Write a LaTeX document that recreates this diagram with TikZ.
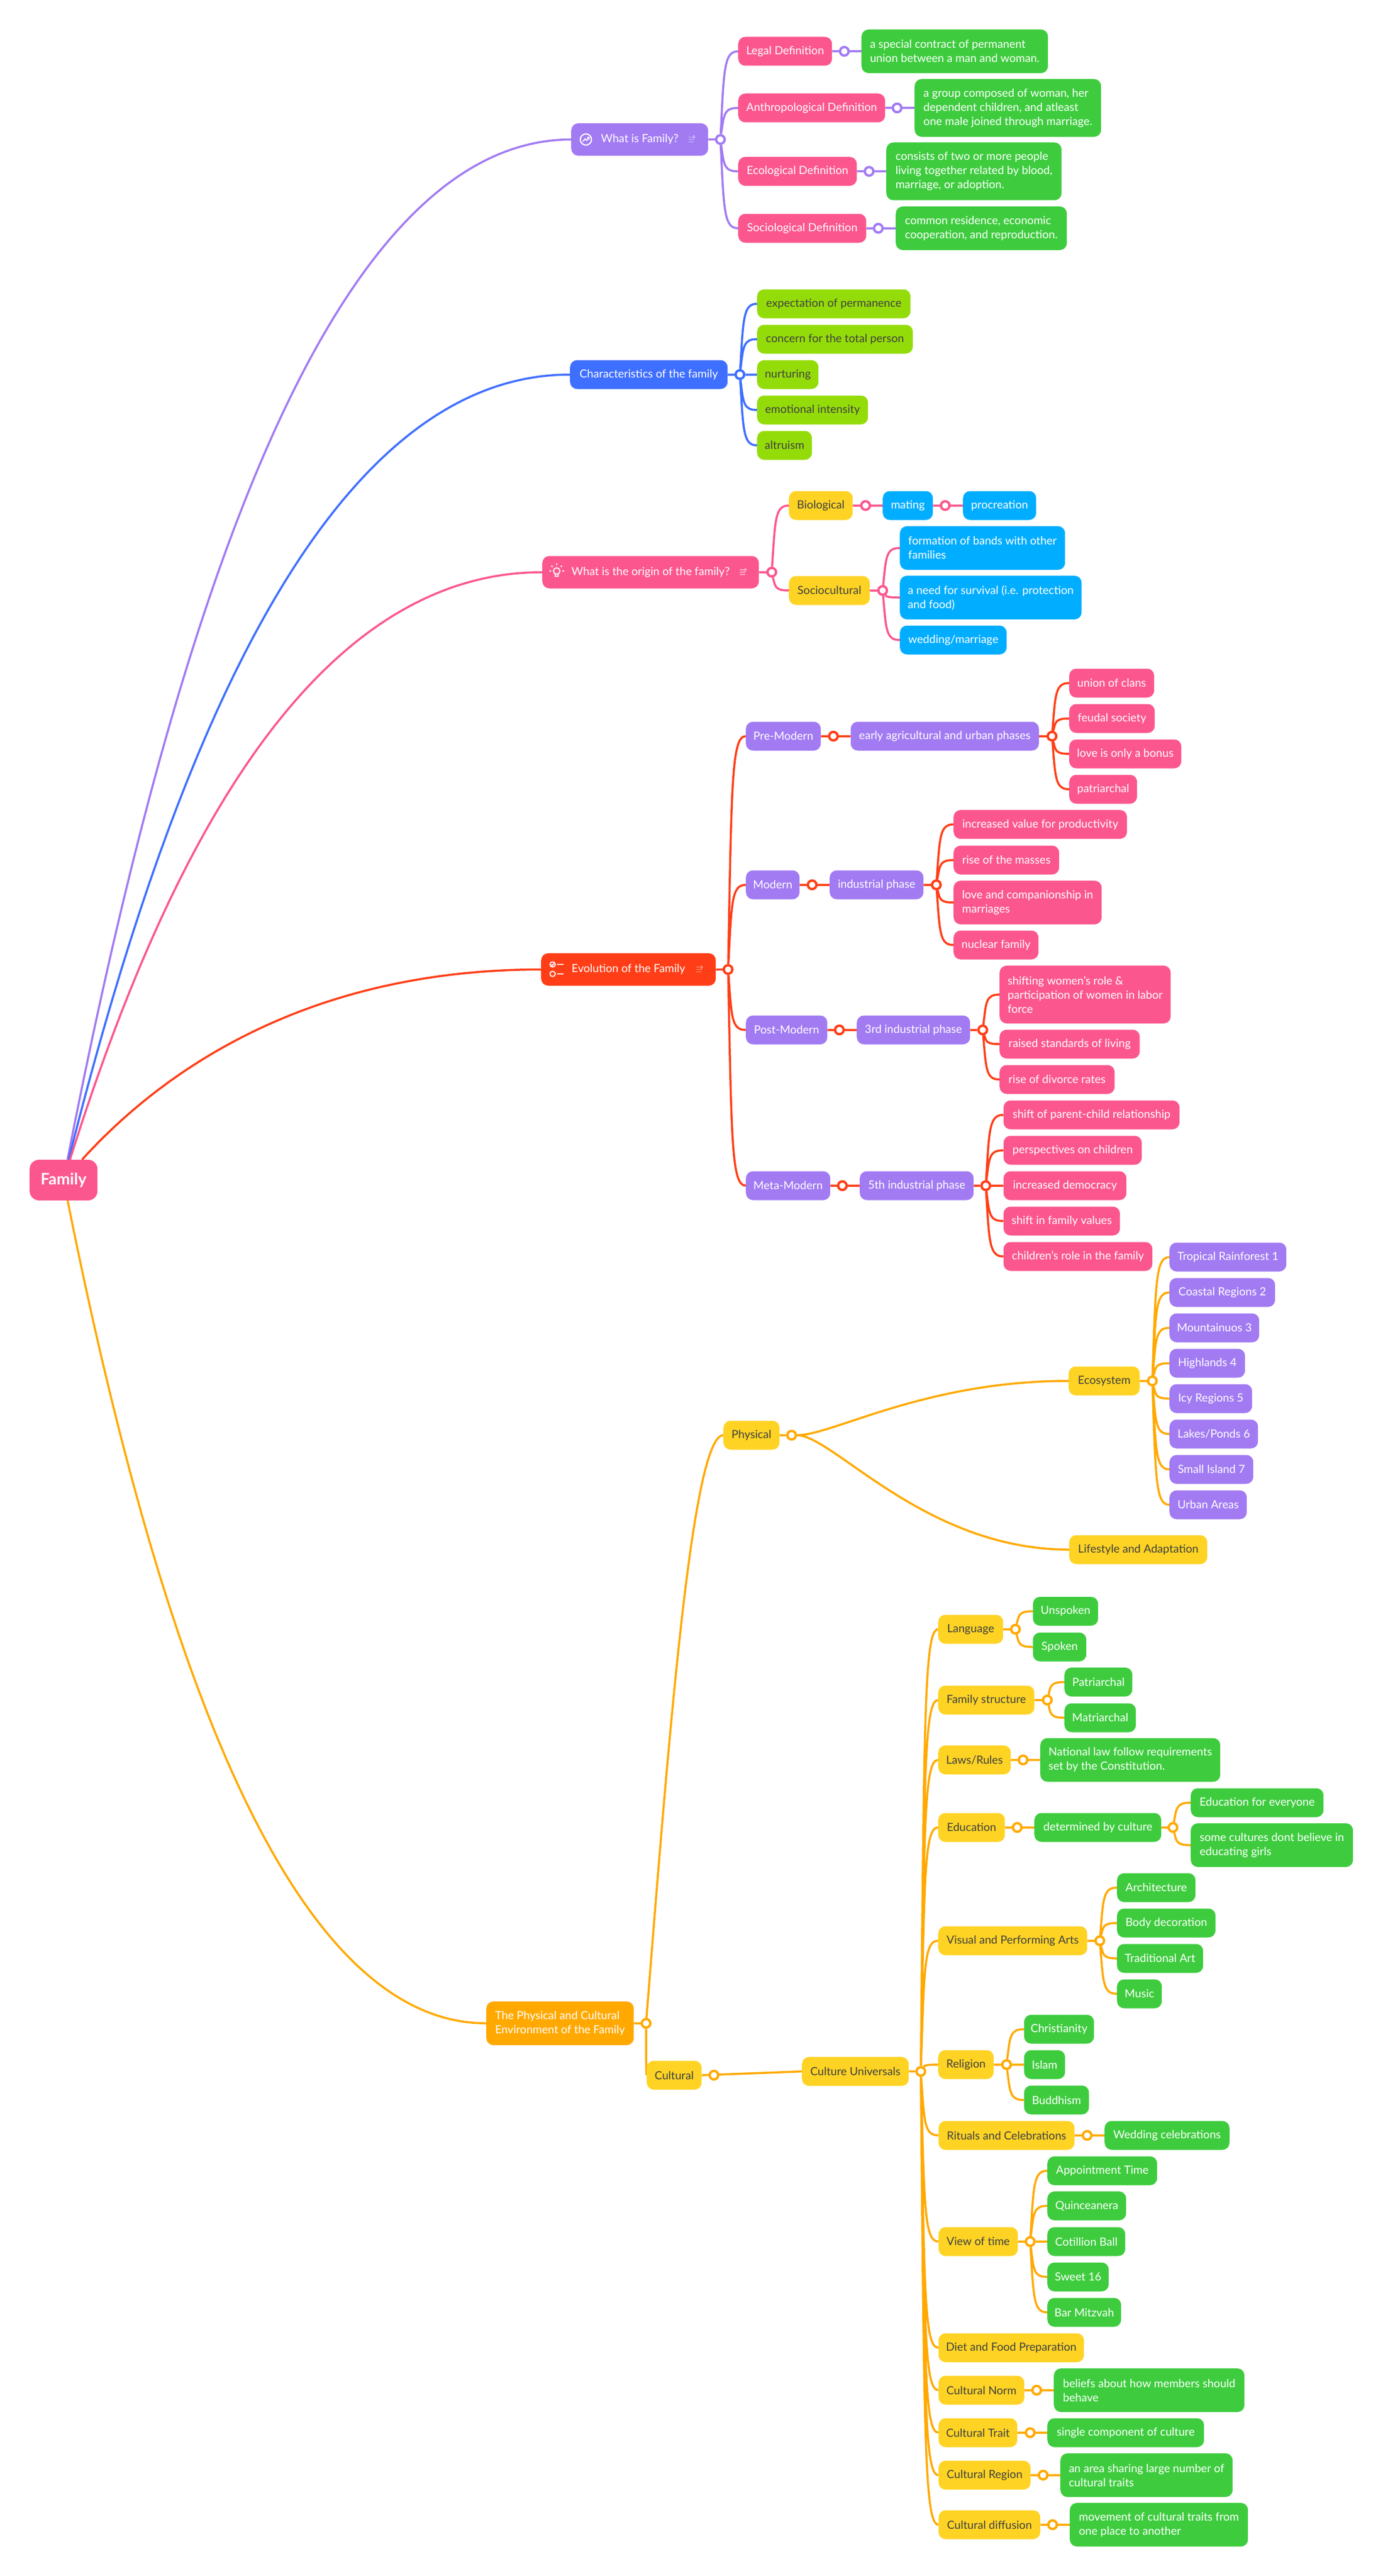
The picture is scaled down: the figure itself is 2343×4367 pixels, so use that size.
\documentclass[tikz,border=0pt]{standalone}
\usepackage{fontspec}
\setmainfont{Lato}
\usetikzlibrary{calc,backgrounds}
\definecolor{mmpurple}{HTML}{A27BF3}
\definecolor{mmpink}{HTML}{FB578E}
\definecolor{mmgreen}{HTML}{3ECC3E}
\definecolor{mmblue}{HTML}{3F6FFF}
\definecolor{mmlime}{HTML}{94DC09}
\definecolor{mmyellow}{HTML}{FFD324}
\definecolor{mmcyan}{HTML}{00ADFF}
\definecolor{mmred}{HTML}{FF3E17}
\definecolor{mmorange}{HTML}{FFA900}
\definecolor{mmdark}{HTML}{404040}
\tikzset{
  box/.style={anchor=west,rounded corners=12pt,inner xsep=2pt,inner ysep=0pt,minimum height=49pt,align=left,font=\fontsize{19.1}{24}\selectfont,text=white},
  greenbox/.style={box,fill=mmgreen},
  pinkbox/.style={box,fill=mmpink},
  purplebox/.style={box,fill=mmpurple},
  cyanbox/.style={box,fill=mmcyan},
  limebox/.style={box,fill=mmlime,text=mmdark},
  yellowbox/.style={box,fill=mmyellow,text=mmdark},
  topbox/.style={box,minimum height=55pt,fill=#1},
  hub/.style={circle,draw=#1,fill=white,line width=4pt,minimum size=14.5pt,inner sep=0pt},
  bend/.style n args={3}{to path={let \p1=(\tikztostart),\p2=(\tikztotarget) in
    .. controls (\x1+#1*\x2-#1*\x1,\y1+#3*\y2-#3*\y1) and (\x1+#2*\x2-#2*\x1,\y2) .. (\tikztotarget)}},
  rootline/.style={bend={0.2}{0.5}{0.5}},
  fanline/.style={bend={0.2}{0.2}{0.8}},
  longline/.style={bend={0.15}{0.48}{0}},
  noteicon/.pic={
    \draw[white,opacity=.5,line width=1.5pt] (-6,-4) -- (1,-4) (-6,0) -- (3,0) (-6,4) -- (3,4) (3,-7) -- (3,-1) (0,-4) -- (6,-4);
  }
}
\begin{document}
\begin{tikzpicture}[x=1pt,y=-1pt]
  \useasboundingbox (0,0) rectangle (2343,4367);

  \node[box,fill=mmpink,minimum width=115pt,minimum height=69pt,rounded corners=16pt,font=\fontsize{27}{30}\selectfont\bfseries] (family) at (50,2000.5) {Family};

  % what is family
  \node[topbox=mmpurple,minimum width=232pt] (whatis) at (968,236.5) {What is Family?};
  \node[hub=mmpurple] (hwhatis) at (1221,236.5) {};
  \node[pinkbox,minimum width=159pt] (legal) at (1251,87) {Legal Definition};
  \node[hub=mmpurple] (hlegal) at (1431,87) {};
  \node[greenbox,minimum width=316pt,minimum height=74pt] (contract) at (1460,87) {a special contract of permanent\\union between a man and woman.};
  \node[pinkbox,minimum width=249pt] (anthro) at (1251,183) {Anthropological Definition};
  \node[hub=mmpurple] (hanthro) at (1520.5,183) {};
  \node[greenbox,minimum width=316pt,minimum height=98pt] (group) at (1550,183) {a group composed of woman, her\\dependent children, and atleast\\one male joined through marriage.};
  \node[pinkbox,minimum width=201pt] (eco) at (1251,290.5) {Ecological Definition};
  \node[hub=mmpurple] (heco) at (1473,290.5) {};
  \node[greenbox,minimum width=297pt,minimum height=98pt] (consists) at (1502,290.5) {consists of two or more people\\living together related by blood,\\marriage, or adoption.};
  \node[pinkbox,minimum width=217pt] (socio) at (1251,387) {Sociological Definition};
  \node[hub=mmpurple] (hsocio) at (1488.6,387) {};
  \node[greenbox,minimum width=290pt,minimum height=74pt] (common) at (1518,387) {common residence, economic\\cooperation, and reproduction.};

  % characteristics
  \node[topbox=mmblue,minimum width=267pt,minimum height=49pt] (charac) at (966,635) {Characteristics of the family};
  \node[hub=mmblue] (hcharac) at (1254,635) {};
  \node[limebox,minimum width=260pt] (perm) at (1283,515) {expectation of permanence};
  \node[limebox,minimum width=264pt] (concern) at (1283,575) {concern for the total person};
  \node[limebox,minimum width=104pt] (nurt) at (1283,635) {nurturing};
  \node[limebox,minimum width=188pt] (emot) at (1283,695) {emotional intensity};
  \node[limebox,minimum width=93pt] (altru) at (1283,755) {altruism};

  % origin
  \node[topbox=mmpink,minimum width=367pt] (origin) at (919,970) {What is the origin of the family?};
  \node[hub=mmpink] (horigin) at (1308,970) {};
  \node[yellowbox,minimum width=108pt] (bio) at (1337,857) {Biological};
  \node[hub=mmpink] (hbio) at (1467,857) {};
  \node[cyanbox,minimum width=85pt] (mating) at (1496,857) {mating};
  \node[hub=mmpink] (hmating) at (1602,857) {};
  \node[cyanbox,minimum width=124pt] (procr) at (1632,857) {procreation};
  \node[yellowbox,minimum width=137pt] (cult) at (1337,1001) {Sociocultural};
  \node[hub=mmpink] (hcult) at (1496,1001) {};
  \node[cyanbox,minimum width=280pt,minimum height=74pt] (bands) at (1525,929) {formation of bands with other\\families};
  \node[cyanbox,minimum width=308pt,minimum height=74pt] (survival) at (1525,1013) {a need for survival (i.e. protection\\and food)};
  \node[cyanbox,minimum width=181pt] (wedmar) at (1525,1085) {wedding/marriage};

  % evolution
  \node[topbox=mmred,minimum width=296pt] (evol) at (917,1643.5) {Evolution of the Family};
  \node[hub=mmred] (hevol) at (1234,1643.5) {};
  \node[purplebox,minimum width=127pt] (pre) at (1264,1248) {Pre-Modern};
  \node[hub=mmred] (hpre) at (1412.5,1248) {};
  \node[purplebox,minimum width=319pt] (early) at (1441.6,1248) {early agricultural and urban phases};
  \node[hub=mmred] (hearly) at (1783,1248) {};
  \node[pinkbox,minimum width=144pt] (clans) at (1812,1158) {union of clans};
  \node[pinkbox,minimum width=145pt] (feudal) at (1812,1218) {feudal society};
  \node[pinkbox,minimum width=190pt] (bonus) at (1812,1278) {love is only a bonus};
  \node[pinkbox,minimum width=115pt] (patri) at (1812,1338) {patriarchal};
  \node[purplebox,minimum width=91pt] (modern) at (1264,1500) {Modern};
  \node[hub=mmred] (hmodern) at (1376.5,1500) {};
  \node[purplebox,minimum width=159pt] (indus) at (1406,1500) {industrial phase};
  \node[hub=mmred] (hindus) at (1587,1500) {};
  \node[pinkbox,minimum width=294pt] (prod) at (1616,1397.6) {increased value for productivity};
  \node[pinkbox,minimum width=179pt] (masses) at (1616,1458) {rise of the masses};
  \node[pinkbox,minimum width=251pt,minimum height=74pt] (compan) at (1616,1530) {love and companionship in\\marriages};
  \node[pinkbox,minimum width=144pt] (nuclear) at (1616,1602) {nuclear family};
  \node[purplebox,minimum width=138pt] (post) at (1264,1746) {Post-Modern};
  \node[hub=mmred] (hpost) at (1422.6,1746) {};
  \node[purplebox,minimum width=192pt] (third) at (1452,1746) {3rd industrial phase};
  \node[hub=mmred] (hthird) at (1665.6,1746) {};
  \node[pinkbox,minimum width=290pt,minimum height=98pt] (womens) at (1694,1686) {shifting women's role \&\\participation of women in labor\\force};
  \node[pinkbox,minimum width=237.5pt] (raised) at (1694,1770) {raised standards of living};
  \node[pinkbox,minimum width=195pt] (divorce) at (1694,1830) {rise of divorce rates};
  \node[purplebox,minimum width=143pt] (meta) at (1264,2010) {Meta-Modern};
  \node[hub=mmred] (hmeta) at (1427.7,2010) {};
  \node[purplebox,minimum width=193pt] (fifth) at (1457,2010) {5th industrial phase};
  \node[hub=mmred] (hfifth) at (1670.7,2010) {};
  \node[pinkbox,minimum width=298.4pt] (parent) at (1700.6,1890) {shift of parent-child relationship};
  \node[pinkbox,minimum width=234.4pt] (persp) at (1700.6,1950) {perspectives on children};
  \node[pinkbox,minimum width=208.4pt] (democ) at (1700.6,2010) {increased democracy};
  \node[pinkbox,minimum width=197.4pt] (values) at (1700.6,2070) {shift in family values};
  \node[pinkbox,minimum width=252.4pt] (roles) at (1700.6,2130) {children's role in the family};

  % environment
  \node[topbox=mmorange,minimum width=250pt,minimum height=74pt] (envir) at (824,3430) {The Physical and Cultural\\Environment of the Family};
  \node[hub=mmorange] (henvir) at (1095,3430) {};
  \node[yellowbox,minimum width=95pt] (phys) at (1226,2433) {Physical};
  \node[hub=mmorange] (hphys) at (1341.6,2433) {};
  \node[yellowbox,minimum width=120.5pt] (ecosys) at (1811,2341) {Ecosystem};
  \node[hub=mmorange] (hecosys) at (1953,2341) {};
  \node[purplebox,minimum width=198pt] (tropic) at (1982,2131) {Tropical Rainforest 1};
  \node[purplebox,minimum width=179pt] (coast) at (1982,2191) {Coastal Regions 2};
  \node[purplebox,minimum width=152pt] (mount) at (1982,2251) {Mountainuos 3};
  \node[purplebox,minimum width=128pt] (high) at (1982,2311) {Highlands 4};
  \node[purplebox,minimum width=140pt] (icy) at (1982,2371) {Icy Regions 5};
  \node[purplebox,minimum width=150pt] (lakes) at (1982,2431) {Lakes/Ponds 6};
  \node[purplebox,minimum width=142pt] (island) at (1982,2491) {Small Island 7};
  \node[purplebox,minimum width=131pt] (urban) at (1982,2551) {Urban Areas};
  \node[yellowbox,minimum width=234pt] (life) at (1812,2627) {Lifestyle and Adaptation};
  \node[yellowbox,minimum width=93pt] (cultural) at (1096,3518) {Cultural};
  \node[hub=mmorange] (hcultural) at (1210,3518) {};
  \node[yellowbox,minimum width=181pt] (univ) at (1359,3511.6) {Culture Universals};
  \node[hub=mmorange] (huniv) at (1560.6,3511.6) {};

  \node[yellowbox,minimum width=110pt] (lang) at (1590,2762) {Language};
  \node[hub=mmorange] (hlang) at (1721,2762) {};
  \node[greenbox,minimum width=110.5pt] (unspok) at (1750.5,2731.5) {Unspoken};
  \node[greenbox,minimum width=90.5pt] (spok) at (1750.5,2792) {Spoken};
  \node[yellowbox,minimum width=163pt] (struct) at (1590,2882) {Family structure};
  \node[hub=mmorange] (hstruct) at (1775,2882) {};
  \node[greenbox,minimum width=115pt] (patria) at (1804,2851.5) {Patriarchal};
  \node[greenbox,minimum width=121pt] (matria) at (1804,2912) {Matriarchal};
  \node[yellowbox,minimum width=123pt] (laws) at (1590,2983.5) {Laws/Rules};
  \node[hub=mmorange] (hlaws) at (1734,2983.5) {};
  \node[greenbox,minimum width=305pt,minimum height=74pt] (natlaw) at (1763,2983.5) {National law follow requirements\\set by the Constitution.};
  \node[yellowbox,minimum width=113pt] (educ) at (1590,3098) {Education};
  \node[hub=mmorange] (heduc) at (1724,3098) {};
  \node[greenbox,minimum width=215pt] (determ) at (1753,3098) {determined by culture};
  \node[hub=mmorange] (hdeterm) at (1988,3098) {};
  \node[greenbox,minimum width=225pt] (everyone) at (2018,3056) {Education for everyone};
  \node[greenbox,minimum width=275pt,minimum height=74pt] (girls) at (2018,3128) {some cultures dont believe in\\educating girls};
  \node[yellowbox,minimum width=252.5pt] (visual) at (1590,3290) {Visual and Performing Arts};
  \node[hub=mmorange] (hvisual) at (1864,3290) {};
  \node[greenbox,minimum width=133pt] (archi) at (1893,3200) {Architecture};
  \node[greenbox,minimum width=167pt] (body) at (1893,3260) {Body decoration};
  \node[greenbox,minimum width=146pt] (tradi) at (1893,3320) {Traditional Art};
  \node[greenbox,minimum width=76pt] (music) at (1893,3380) {Music};
  \node[yellowbox,minimum width=94pt] (relig) at (1590,3500) {Religion};
  \node[hub=mmorange] (hrelig) at (1706,3500) {};
  \node[greenbox,minimum width=118.5pt] (christ) at (1735.5,3440) {Christianity};
  \node[greenbox,minimum width=69.5pt] (islam) at (1735.5,3500) {Islam};
  \node[greenbox,minimum width=110pt] (buddh) at (1735.5,3560) {Buddhism};
  \node[yellowbox,minimum width=230.5pt] (ritual) at (1590.5,3620) {Rituals and Celebrations};
  \node[hub=mmorange] (hritual) at (1842.5,3620) {};
  \node[greenbox,minimum width=211.6pt] (wedcel) at (1872,3620) {Wedding celebrations};
  \node[yellowbox,minimum width=134.5pt] (viewt) at (1590.5,3800) {View of time};
  \node[hub=mmorange] (hviewt) at (1746,3800) {};
  \node[greenbox,minimum width=186pt] (appoint) at (1775,3680) {Appointment Time};
  \node[greenbox,minimum width=133.5pt] (quince) at (1775,3739.5) {Quinceanera};
  \node[greenbox,minimum width=132pt] (cotil) at (1775,3800) {Cotillion Ball};
  \node[greenbox,minimum width=104pt] (sweet) at (1775,3860) {Sweet 16};
  \node[greenbox,minimum width=125pt] (mitzv) at (1775,3920) {Bar Mitzvah};
  \node[yellowbox,minimum width=246.5pt] (diet) at (1590.5,3980) {Diet and Food Preparation};
  \node[yellowbox,minimum width=145.5pt] (norm) at (1590.5,4052) {Cultural Norm};
  \node[hub=mmorange] (hnorm) at (1757,4052) {};
  \node[greenbox,minimum width=323pt,minimum height=74pt] (beliefs) at (1786,4052) {beliefs about how members should\\behave};
  \node[yellowbox,minimum width=133.5pt] (trait) at (1590.5,4124) {Cultural Trait};
  \node[hub=mmorange] (htrait) at (1746,4124) {};
  \node[greenbox,minimum width=265.5pt] (single) at (1775,4124) {single component of culture};
  \node[yellowbox,minimum width=156pt] (region) at (1590.5,4196) {Cultural Region};
  \node[hub=mmorange] (hregion) at (1768,4196) {};
  \node[greenbox,minimum width=292pt,minimum height=74pt] (area) at (1797,4196) {an area sharing large number of\\cultural traits};
  \node[yellowbox,minimum width=172.5pt] (diffus) at (1590.5,4280) {Cultural diffusion};
  \node[hub=mmorange] (hdiffus) at (1784,4280) {};
  \node[greenbox,minimum width=302pt,minimum height=74pt] (moves) at (1813,4280) {movement of cultural traits from\\one place to another};

  % icons
  \draw[white,line width=2pt] (993,236.5) circle (9.5);
  \draw[white,line width=1.8pt] (988,240) -- (991.5,235.5) -- (994.5,238) -- (998.5,233) (995,233) -- (998.5,233) -- (998.5,236.5);
  \draw[white,line width=1.8pt] (943.5,968) circle (5.5) (941,973.5) -- (941,977) -- (946,977) -- (946,973.5)
    (931,968) -- (934,968) (953,968) -- (956,968) (943.5,955) -- (943.5,958) (934.5,959) -- (936.5,961) (952.5,959) -- (950.5,961);
  \draw[white,line width=1.8pt] (936.6,1635) circle (4.5) (936.6,1651) circle (4.5) (944,1635) -- (955,1635) (944,1651) -- (955,1651)
    (934.5,1635) -- (936,1637) -- (939,1633);
  \pic at (1173,236.5) {noteicon};
  \pic at (1260,970) {noteicon};
  \pic at (1186,1643.5) {noteicon};

  \begin{pgfonlayer}{background}
    \draw[mmpurple,line width=3.5pt] (family) to[rootline] (whatis.west) (whatis.east) -- (hwhatis)
      (hwhatis) to[fanline] (legal.west) (hwhatis) to[fanline] (anthro.west) (hwhatis) to[fanline] (eco.west) (hwhatis) to[fanline] (socio.west)
      (legal.east) -- (contract.west) (anthro.east) -- (group.west) (eco.east) -- (consists.west) (socio.east) -- (common.west);
    \draw[mmblue,line width=3.5pt] (family) to[rootline] (charac.west) (charac.east) -- (hcharac)
      (hcharac) to[fanline] (perm.west) (hcharac) to[fanline] (concern.west) (hcharac) -- (nurt.west) (hcharac) to[fanline] (emot.west) (hcharac) to[fanline] (altru.west);
    \draw[mmpink,line width=3.5pt] (family) to[rootline] (origin.west) (origin.east) -- (horigin)
      (horigin) to[fanline] (bio.west) (horigin) to[fanline] (cult.west)
      (bio.east) -- (mating.west) (mating.east) -- (procr.west) (cult.east) -- (hcult)
      (hcult) to[fanline] (bands.west) (hcult) to[fanline] (survival.west) (hcult) to[fanline] (wedmar.west);
    \draw[mmred,line width=3.5pt] (family) to[rootline] (evol.west) (evol.east) -- (hevol)
      (hevol) to[fanline] (pre.west) (hevol) to[fanline] (modern.west) (hevol) to[fanline] (post.west) (hevol) to[fanline] (meta.west)
      (pre.east) -- (early.west) (early.east) -- (hearly)
      (hearly) to[fanline] (clans.west) (hearly) to[fanline] (feudal.west) (hearly) to[fanline] (bonus.west) (hearly) to[fanline] (patri.west)
      (modern.east) -- (indus.west) (indus.east) -- (hindus)
      (hindus) to[fanline] (prod.west) (hindus) to[fanline] (masses.west) (hindus) to[fanline] (compan.west) (hindus) to[fanline] (nuclear.west)
      (post.east) -- (third.west) (third.east) -- (hthird)
      (hthird) to[fanline] (womens.west) (hthird) to[fanline] (raised.west) (hthird) to[fanline] (divorce.west)
      (meta.east) -- (fifth.west) (fifth.east) -- (hfifth)
      (hfifth) to[fanline] (parent.west) (hfifth) to[fanline] (persp.west) (hfifth) -- (democ.west) (hfifth) to[fanline] (values.west) (hfifth) to[fanline] (roles.west);
    \draw[mmorange,line width=3.5pt] (family) to[rootline] (envir.west) (envir.east) -- (henvir)
      (henvir) to[bend={0.3}{0.6}{0.5}] (phys.west) (henvir) to[fanline] (cultural.west)
      (phys.east) -- (hphys) (hphys) to[longline] (ecosys.west) (hphys) to[longline] (life.west)
      (ecosys.east) -- (hecosys)
      (hecosys) to[fanline] (tropic.west) (hecosys) to[fanline] (coast.west) (hecosys) to[fanline] (mount.west) (hecosys) to[fanline] (high.west)
      (hecosys) to[fanline] (icy.west) (hecosys) to[fanline] (lakes.west) (hecosys) to[fanline] (island.west) (hecosys) to[fanline] (urban.west)
      (cultural.east) -- (univ.west) (univ.east) -- (huniv)
      (huniv) to[fanline] (lang.west) (huniv) to[fanline] (struct.west) (huniv) to[fanline] (laws.west) (huniv) to[fanline] (educ.west) (huniv) to[fanline] (visual.west) (huniv) to[fanline] (relig.west)
      (huniv) to[fanline] (ritual.west) (huniv) to[fanline] (viewt.west) (huniv) to[fanline] (diet.west) (huniv) to[fanline] (norm.west) (huniv) to[fanline] (trait.west) (huniv) to[fanline] (region.west) (huniv) to[fanline] (diffus.west)
      (lang.east) -- (hlang) (hlang) to[fanline] (unspok.west) (hlang) to[fanline] (spok.west)
      (struct.east) -- (hstruct) (hstruct) to[fanline] (patria.west) (hstruct) to[fanline] (matria.west)
      (laws.east) -- (natlaw.west) (educ.east) -- (determ.west) (determ.east) -- (hdeterm)
      (hdeterm) to[fanline] (everyone.west) (hdeterm) to[fanline] (girls.west)
      (visual.east) -- (hvisual) (hvisual) to[fanline] (archi.west) (hvisual) to[fanline] (body.west) (hvisual) to[fanline] (tradi.west) (hvisual) to[fanline] (music.west)
      (relig.east) -- (hrelig) (hrelig) to[fanline] (christ.west) (hrelig) -- (islam.west) (hrelig) to[fanline] (buddh.west)
      (ritual.east) -- (wedcel.west)
      (viewt.east) -- (hviewt) (hviewt) to[fanline] (appoint.west) (hviewt) to[fanline] (quince.west) (hviewt) -- (cotil.west) (hviewt) to[fanline] (sweet.west) (hviewt) to[fanline] (mitzv.west)
      (norm.east) -- (beliefs.west) (trait.east) -- (single.west) (region.east) -- (area.west) (diffus.east) -- (moves.west);
  \end{pgfonlayer}
\end{tikzpicture}
\end{document}
